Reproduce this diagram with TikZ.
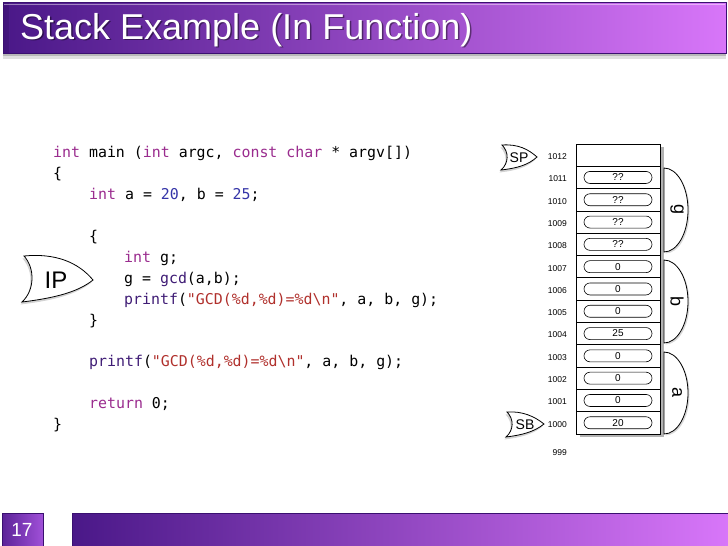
\documentclass[tikz,border=0pt]{standalone}
\usepackage{fontspec}
\setmainfont{Liberation Sans}
\setmonofont{DejaVu Sans Mono}
\usetikzlibrary{shadows}
\definecolor{kwc}{HTML}{9A2C8E}
\definecolor{numc}{HTML}{3535A8}
\definecolor{fnc}{HTML}{3F1C75}
\definecolor{strc}{HTML}{B0302C}
\definecolor{barL}{HTML}{4A1888}
\definecolor{barM}{HTML}{A050D8}
\definecolor{barR}{HTML}{D876F9}
\definecolor{barEdge}{HTML}{3A1070}
\newcommand\kw[1]{\textcolor{kwc}{#1}}
\newcommand\nm[1]{\textcolor{numc}{#1}}
\newcommand\fn[1]{\textcolor{fnc}{#1}}
\newcommand\st[1]{\textcolor{strc}{#1}}
\tikzset{
  code/.style={anchor=base west, inner sep=0pt, font=\ttfamily\fontsize{14.9}{18}\selectfont},
  cell/.style={draw=black, line width=0.8pt, fill=white, minimum width=84pt, minimum height=22.3pt, inner sep=0pt},
  val/.style={draw=black, line width=0.6pt, rounded corners=6pt, minimum width=68pt, minimum height=12pt, inner sep=0pt, font=\fontsize{10}{11}\selectfont},
  addr/.style={anchor=east, inner sep=0pt, font=\fontsize{8.5}{9}\selectfont},
  tagshape/.style={draw=black, line width=0.8pt, fill=white, drop shadow={shadow xshift=-1.5pt, shadow yshift=-2.5pt, opacity=0.35}},
  grp/.style={draw=black, line width=0.8pt, fill=white, drop shadow={shadow xshift=1.5pt, shadow yshift=-1.5pt, opacity=0.3}},
  grplabel/.style={rotate=-90, inner sep=0pt, font=\fontsize{18}{19}\selectfont}
}
\begin{document}
\begin{tikzpicture}[x=1pt, y=-1pt]
\useasboundingbox (0,0) rectangle (728,546);
% title bar
\fill[black!28] (3,53) rectangle (726,56);
\fill[black!12] (3,56) rectangle (726,59);
\shade[left color=barL, middle color=barM, right color=barR] (3,2) rectangle (726,53);
\fill[barEdge, opacity=0.5] (3,2) rectangle (9,53);
\draw[barEdge, line width=1pt] (3,2) rectangle (726,53);
\draw[white, opacity=0.45, line width=1pt] (4,4) -- (725,4);
\node[anchor=base west, inner sep=0pt, text=black, opacity=0.45, font=\fontsize{36}{40}\selectfont] at (21.5,40.5) {Stack Example (In Function)};
\node[anchor=base west, inner sep=0pt, text=white, font=\fontsize{36}{40}\selectfont] (title) at (20,39) {Stack Example (In Function)};
% footer
\shade[left color=barL, middle color=barM, right color=barR] (72,513) rectangle (728,546);
\draw[barEdge, line width=1pt] (72,513) rectangle (728,546);
\shade[left color=barL!80!barM, right color=barM] (2,513) rectangle (43,546);
\draw[barEdge, line width=1pt] (2,513) rectangle (43,546);
\node[text=white, font=\fontsize{19}{22}\selectfont] (pnum) at (22,530) {17};
% code
\node[code] (c1) at (53,157) {\kw{int} main (\kw{int} argc, \kw{const} \kw{char} * argv[])};
\node[code] (c2) at (53,178) {\{};
\node[code] (c3) at (89,199) {\kw{int} a = \nm{20}, b = \nm{25};};
\node[code] (c4) at (89,241) {\{};
\node[code] (c5) at (124,262) {\kw{int} g;};
\node[code] (c6) at (124,283) {g = \fn{gcd}(a,b);};
\node[code] (c7) at (124,304) {\fn{printf}(\st{"GCD(\%d,\%d)=\%d\textbackslash n"}, a, b, g);};
\node[code] (c8) at (89,325) {\}};
\node[code] (c9) at (89,366) {\fn{printf}(\st{"GCD(\%d,\%d)=\%d\textbackslash n"}, a, b, g);};
\node[code] (c10) at (89,408) {\kw{return} 0;};
\node[code] (c11) at (53,429) {\}};
% IP tag
\path[tagshape] (24,256) .. controls (55,253) and (78,262) .. (93,280) .. controls (78,292) and (55,298) .. (22,302) .. controls (35,290) and (35,268) .. cycle;
\node[font=\fontsize{24}{26}\selectfont] (ip) at (56,280) {IP};
% stack
\fill[black!30] (580,147) rectangle (664,437);
\foreach \i/\a in {0/1012,1/1011,2/1010,3/1009,4/1008,5/1007,6/1006,7/1005,8/1004,9/1003,10/1002,11/1001,12/1000}{
  \node[cell] (r\i) at (618.5,{155.15+22.3*\i}) {};
  \node[addr] (ad\i) at (567,{156.6+22.3*\i}) {\a};
}
\foreach \i/\v in {1/??,2/??,3/??,4/??,5/0,6/0,7/0,8/25,9/0,10/0,11/0,12/20}{
  \node[val] (v\i) at (618,{155.15+22.3*\i}) {\v};
}
\node[addr] (ad13) at (567,453) {999};
% groups
\path[grp] (664,168) arc[start angle=-90, end angle=90, x radius=24, y radius=42] -- cycle;
\node[grplabel] (gg) at (677,210) {g};
\path[grp] (664,260) arc[start angle=-90, end angle=90, x radius=24, y radius=41.5] -- cycle;
\node[grplabel] (gb) at (677,301.5) {b};
\path[grp] (664,352) arc[start angle=-90, end angle=90, x radius=24, y radius=41] -- cycle;
\node[grplabel] (ga) at (677,393) {a};
% SP / SB tags
\path[tagshape] (502,145) .. controls (518,144) and (528,149) .. (537,157) .. controls (528,165) and (518,168) .. (501,170) .. controls (509,163) and (509,152) .. cycle;
\node[font=\fontsize{14}{15}\selectfont] (sp) at (519,157.5) {SP};
\path[tagshape] (507,412) .. controls (522,411) and (534,416) .. (544,424) .. controls (534,432) and (522,435) .. (506,437) .. controls (514,430) and (514,419) .. cycle;
\node[font=\fontsize{14}{15}\selectfont] (sb) at (525,424.5) {SB};
\end{tikzpicture}
\end{document}
